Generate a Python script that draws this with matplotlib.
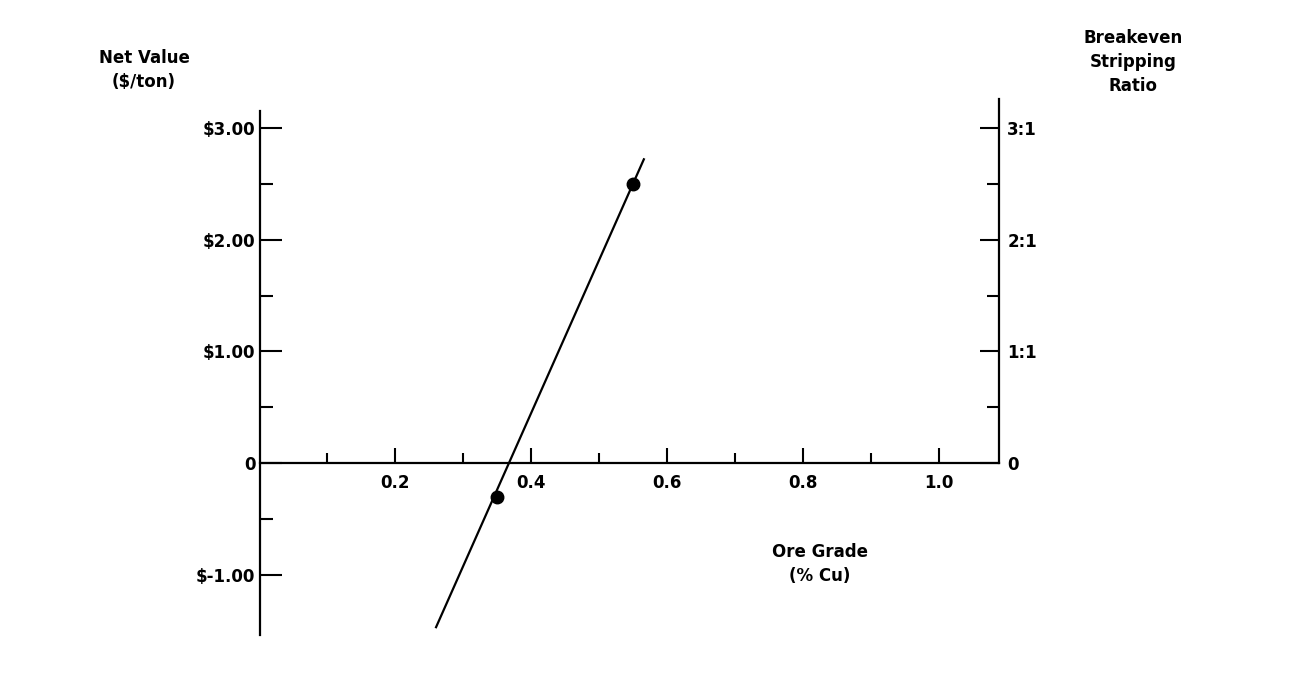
import numpy as np
import matplotlib.pyplot as plt
from matplotlib.ticker import FixedLocator, FixedFormatter

# 数据
grade_pts = [0.35, 0.55]          # % Cu
value_pts = [-0.30, 2.50]         # $/ton
line_grade = [0.26, 0.566]
line_value = [-1.47, 2.72]

x_major = [0.2, 0.4, 0.6, 0.8, 1.0]
x_major_labels = ['0.2', '0.4', '0.6', '0.8', '1.0']
x_minor = [0.1, 0.3, 0.5, 0.7, 0.9]

y_major = [-1, 0, 1, 2, 3]
y_left_labels = ['$-1.00', '0', '$1.00', '$2.00', '$3.00']
y_minor = [-0.5, 0.5, 1.5, 2.5]

r_major = [0, 1, 2, 3]
r_labels = ['0', '1:1', '2:1', '3:1']
r_minor = [0.5, 1.5, 2.5]

W, H = 1302, 677
plt.rcParams['font.family'] = ['DejaVu Sans']
plt.rcParams['font.weight'] = 'bold'
fs = 12

fig = plt.figure(figsize=(W / 100, H / 100), dpi=100)
ax = fig.add_axes([259.5 / W, 42 / H, (999 - 259.5) / W, (635 - 99) / H])
ax.set_xlim(0, 1.089)
ax.set_ylim(-1.54, 3.26)

# 线和点
ax.plot(line_grade, line_value, color='black', linewidth=1.6)
ax.plot(grade_pts, value_pts, 'o', color='black', markersize=9)

# 坐标轴
for s in ax.spines.values():
    s.set_linewidth(1.6)
ax.spines['top'].set_visible(False)
ax.spines['right'].set_visible(False)
ax.spines['bottom'].set_position(('data', 0))
ax.spines['left'].set_bounds(-1.54, 3.15)

ax.xaxis.set_major_locator(FixedLocator(x_major))
ax.xaxis.set_major_formatter(FixedFormatter(x_major_labels))
ax.xaxis.set_minor_locator(FixedLocator(x_minor))
ax.yaxis.set_major_locator(FixedLocator(y_major))
ax.yaxis.set_major_formatter(FixedFormatter(y_left_labels))
ax.yaxis.set_minor_locator(FixedLocator(y_minor))

ax.tick_params(axis='x', which='major', direction='in', length=11, width=1.5,
               pad=8, labelsize=fs)
ax.tick_params(axis='x', which='minor', direction='in', length=7, width=1.5)
ax.tick_params(axis='y', which='major', direction='in', length=16, width=1.5,
               pad=3, labelsize=fs)
ax.tick_params(axis='y', which='minor', direction='in', length=9, width=1.5)

# 右侧坐标轴
ax2 = ax.twinx()
ax2.set_ylim(ax.get_ylim())
for k in ['top', 'left', 'bottom']:
    ax2.spines[k].set_visible(False)
ax2.spines['right'].set_linewidth(1.6)
ax2.spines['right'].set_bounds(0, 3.26)
ax2.yaxis.set_major_locator(FixedLocator(r_major))
ax2.yaxis.set_major_formatter(FixedFormatter(r_labels))
ax2.yaxis.set_minor_locator(FixedLocator(r_minor))
ax2.tick_params(axis='y', which='major', direction='in', length=14, width=1.5,
                pad=6, labelsize=fs)
ax2.tick_params(axis='y', which='minor', direction='in', length=9, width=1.5)

# 标题文字
def label(x, y, s):
    fig.text(x / W, 1 - y / H, s, ha='center', va='center', ma='center',
             fontsize=fs, fontweight='bold', linespacing=1.45)

label(144, 70, 'Net Value\n($/ton)')
label(1133, 62, 'Breakeven\nStripping\nRatio')
label(820, 564, 'Ore Grade\n(% Cu)')

fig.savefig('out.png', dpi=100)
